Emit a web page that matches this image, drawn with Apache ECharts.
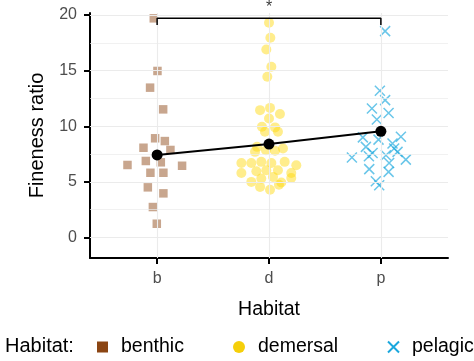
<!DOCTYPE html>
<html>
<head>
<meta charset="utf-8">
<script src="https://cdn.jsdelivr.net/npm/echarts@6/dist/echarts.min.js"></script>
<style>
html,body{margin:0;padding:0;background:#fff;}
#chart{width:474px;height:361px;}
</style>
</head>
<body>
<div id="chart"></div>
<script>
// ---- data ----
var categories = ['b', 'd', 'p'];
var habitatNames = ['benthic', 'demersal', 'pelagic'];
var yTicks = [0, 5, 10, 15, 20];
var yGrid = [0, 2.5, 5, 7.5, 10, 12.5, 15, 17.5, 20];

// horizontal jitter (category units) and fineness ratio per fish
var benthicJitter = [-0.03, 0.003, -0.063, 0.054, -0.018, 0.069, -0.122, 0.119, -0.101, 0.033, -0.265, 0.223, -0.06, 0.056, -0.083, 0.056, -0.038, -0.003];
var benthicRatio  = [19.7, 14.97, 13.47, 11.52, 8.92, 8.67, 8.07, 7.87, 6.88, 6.76, 6.52, 6.45, 5.82, 5.82, 4.51, 3.97, 2.74, 1.24];

var demersalJitter = [0, 0.012, -0.024, 0.021, -0.015, -0.08, 0.009, 0.098, 0, -0.063, 0.054, -0.036, 0.08, -0.107, 0.125, -0.125, 0.054, -0.027, -0.247, -0.158, -0.069, 0.021, 0.14, 0.244, -0.247, -0.113, -0.024, 0.08, 0.199, -0.158, -0.069, 0.036, 0.11, 0.199, -0.08, 0.009, 0.089];
var demersalRatio  = [19.3, 17.95, 16.9, 15.35, 14.45, 11.45, 11.65, 11.1, 10.7, 9.95, 9.9, 9.5, 9.5, 8.15, 8.0, 7.7, 7.8, 7.85, 6.7, 6.7, 6.8, 6.7, 6.8, 6.5, 5.8, 5.95, 6.05, 6.05, 5.8, 5.0, 5.3, 5.45, 4.95, 5.35, 4.55, 4.3, 4.75];

var pelagicJitter = [0.038, -0.009, 0.038, -0.08, 0.069, -0.036, -0.161, -0.021, 0.179, 0.104, -0.134, 0.119, -0.259, -0.107, -0.074, 0.045, 0.149, 0.223, 0.074, -0.104, 0.069, -0.045, -0.015];
var pelagicRatio  = [18.55, 13.2, 12.35, 11.6, 11.2, 10.6, 9.0, 8.8, 9.05, 8.45, 8.15, 8.0, 7.2, 7.3, 7.6, 7.4, 7.7, 7.0, 6.7, 6.15, 5.9, 5.05, 4.7];

var groupMeans = [7.42, 8.4, 9.55];

// significance bracket
var bracketFrom = 'b', bracketTo = 'p';
var bracketTop = 19.7, bracketTip = 19.1, bracketLabel = '*';

// ---- build ----
function pos(cat) { return categories.indexOf(cat) + 1; }
function pts(cat, jit, vals) {
  return vals.map(function (v, i) { return [pos(cat) + jit[i], v]; });
}
var colors = { benthic: '#8B4513', demersal: '#FFD700', pelagic: '#1AA7DD' };
var xPath = 'path://M0,0L10,10M10,0L0,10';

var gridMarks = yGrid.map(function (v) { return { yAxis: v, lineStyle: { width: (v % 5 === 0) ? 1.1 : 0.7 } }; })
  .concat(categories.map(function (c) { return { xAxis: pos(c), lineStyle: { width: 1.1 } }; }));

var bx1 = pos(bracketFrom), bx2 = pos(bracketTo);
var font = 'Liberation Sans, Arial, sans-serif';

var chart = echarts.init(document.getElementById('chart'), null, { renderer: 'canvas' });
chart.setOption({
  animation: false,
  backgroundColor: '#ffffff',
  textStyle: { fontFamily: font },
  grid: { left: 90, right: 26, top: 13, bottom: 103, containLabel: false },
  title: {
    text: 'Habitat:', left: 0, top: 331,
    textStyle: { fontSize: 20, fontWeight: 'normal', color: '#000', fontFamily: font }
  },
  legend: habitatNames.map(function (n, i) {
    var lefts = [92, 228, 382];
    var icons = ['rect', 'circle', xPath];
    var st = i === 2 ? { color: 'transparent', borderColor: colors[n], borderWidth: 2, opacity: 1 }
                     : { color: i === 1 ? '#F5CF0A' : colors[n], opacity: 1, borderWidth: 0 };
    return {
      left: lefts[i], top: 332, selectedMode: false,
      itemWidth: i === 1 ? 12 : 11, itemHeight: i === 1 ? 12 : 11,
      data: [{ name: n, icon: icons[i], itemStyle: st }],
      textStyle: { fontSize: 19.5, color: '#000', fontFamily: font, padding: [0, 0, 0, 8] }
    };
  }),
  xAxis: {
    type: 'value', min: 0.4, max: 3.6,
    name: 'Habitat', nameLocation: 'middle', nameGap: 42,
    nameTextStyle: { fontSize: 19.5, color: '#000', fontFamily: font },
    axisLine: { show: true, onZero: false, lineStyle: { color: '#000', width: 2 } },
    axisTick: { show: true, customValues: [1, 2, 3], length: 6, lineStyle: { color: '#000', width: 2 } },
    axisLabel: {
      customValues: [1, 2, 3], margin: 13, fontSize: 16, color: '#4D4D4D', fontFamily: font,
      formatter: function (v) { return categories[Math.round(v) - 1] || ''; }
    },
    splitLine: { show: false }
  },
  yAxis: {
    type: 'value', min: -1.84, max: 20.18,
    name: 'Fineness ratio', nameLocation: 'middle', nameGap: 43, nameRotate: 90,
    nameTextStyle: { fontSize: 20, color: '#000', fontFamily: font },
    axisLine: { show: true, onZero: false, lineStyle: { color: '#000', width: 2 } },
    axisTick: { show: true, customValues: yTicks, length: 6, lineStyle: { color: '#000', width: 2 } },
    axisLabel: { customValues: yTicks, margin: 13, fontSize: 16, color: '#4D4D4D', fontFamily: font },
    splitLine: { show: false }
  },
  series: [
    {
      name: 'grid', type: 'line', data: [], z: 0, silent: true,
      markLine: { silent: true, symbol: ['none', 'none'], label: { show: false },
        lineStyle: { color: '#EBEBEB', type: 'solid' }, data: gridMarks, animation: false }
    },
    {
      name: 'benthic', type: 'scatter', z: 2, symbol: 'rect', symbolSize: 8.5,
      itemStyle: { color: colors.benthic, opacity: 0.48 },
      data: pts('b', benthicJitter, benthicRatio)
    },
    {
      name: 'demersal', type: 'scatter', z: 2, symbol: 'circle', symbolSize: 10,
      itemStyle: { color: colors.demersal, opacity: 0.45 },
      data: pts('d', demersalJitter, demersalRatio)
    },
    {
      name: 'pelagic', type: 'scatter', z: 2, symbol: xPath, symbolSize: 10,
      itemStyle: { color: 'transparent', borderColor: colors.pelagic, borderWidth: 1.5, opacity: 0.65 },
      data: pts('p', pelagicJitter, pelagicRatio)
    },
    {
      name: 'mean', type: 'line', z: 5, symbol: 'circle', symbolSize: 11, showSymbol: true,
      lineStyle: { color: '#000', width: 2 }, itemStyle: { color: '#000' },
      data: categories.map(function (c, i) { return [pos(c), groupMeans[i]]; })
    },
    {
      name: 'bracket', type: 'line', z: 5, symbol: 'none', clip: false,
      lineStyle: { color: '#000', width: 1.5 },
      data: [[bx1, bracketTip], [bx1, bracketTop], [bx2, bracketTop], [bx2, bracketTip]]
    },
    {
      name: 'sig', type: 'scatter', z: 5, symbolSize: 0, clip: false,
      data: [[(bx1 + bx2) / 2, bracketTop]],
      label: { show: true, position: 'top', distance: 3, formatter: bracketLabel, fontSize: 16, color: '#000', fontFamily: font }
    }
  ]
});
</script>
</body>
</html>
